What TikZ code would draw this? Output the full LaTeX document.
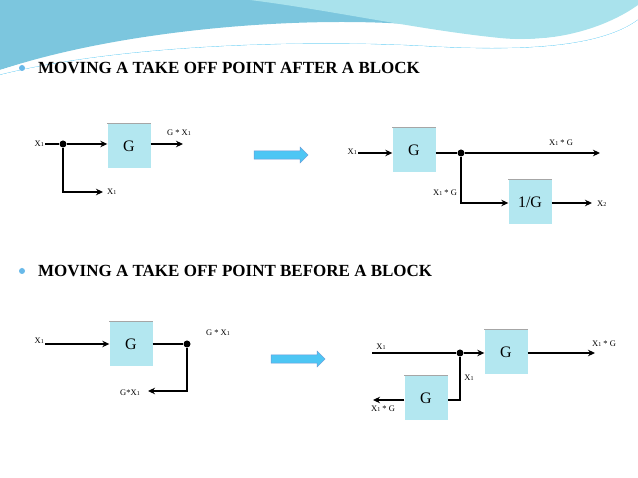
\documentclass[tikz,border=0pt]{standalone}
\usepackage{fontspec}
\setmainfont{Liberation Serif}
\usetikzlibrary{arrows.meta,shapes.arrows}
\definecolor{boxc}{HTML}{B3E7F0}
\definecolor{wave1}{HTML}{7CC6DE}
\definecolor{wave2}{HTML}{A9E2EC}
\newcommand{\xo}{X{\fontsize{6}{6}\selectfont 1}}
\newcommand{\xt}{X{\fontsize{6}{6}\selectfont 2}}
\begin{document}
\begin{tikzpicture}[x=1pt,y=-1pt,
  blk/.style={fill=boxc,minimum width=43pt,minimum height=44pt,inner sep=0pt,font=\fontsize{16}{16}\selectfont,
    append after command={\pgfextra{\draw[gray!70,line width=1.2pt](\tikzlastnode.north west)--(\tikzlastnode.north east);}}},
  lbl/.style={font=\fontsize{8.5}{9}\selectfont,inner sep=1pt},
  ar/.style={-{Stealth[length=7pt,width=6.5pt]},line width=1.3pt},
  ln/.style={line width=1.3pt},
  dotn/.style={circle,fill,inner sep=0pt,minimum size=7pt},
  big/.style={single arrow,fill=cyan!70,draw=cyan!50!blue!60,minimum height=54pt,minimum width=16pt,single arrow head extend=3pt,inner sep=3pt},
  ttl/.style={font=\bfseries\fontsize{17}{17}\selectfont,anchor=west,inner sep=0pt,xscale=1.0}]
\useasboundingbox (0,0) rectangle (638,478);
% header wave
\fill[wave1] (0,0) -- (0,70) .. controls (120,30) and (300,15) .. (420,25) .. controls (520,33) and (600,30) .. (638,0) -- cycle;
\fill[wave2] (250,0) .. controls (330,10) and (420,30) .. (500,38) .. controls (560,44) and (610,25) .. (638,5) -- (638,0) -- cycle;
\fill[white] (0,70) .. controls (120,35) and (300,28) .. (420,36) .. controls (520,44) and (600,40) .. (638,12) -- (638,20) .. controls (600,48) and (520,52) .. (420,46) .. controls (300,40) and (120,45) .. (0,75) -- cycle;
\draw[cyan!60,line width=0.8pt] (0,75) .. controls (120,45) and (300,40) .. (420,46) .. controls (520,52) and (600,48) .. (638,20);
\fill[white] (0,75) .. controls (120,45) and (300,40) .. (420,46) .. controls (520,52) and (600,48) .. (638,20) -- (638,478) -- (0,478) -- cycle;
% titles
\node[circle,fill=cyan!80!blue!60,inner sep=0pt,minimum size=6pt] (b1) at (22,68) {};
\node[ttl] (t1) at (38,68) {MOVING A TAKE OFF POINT AFTER A BLOCK};
\node[circle,fill=cyan!80!blue!60,inner sep=0pt,minimum size=6pt] (b2) at (22,271) {};
\node[ttl] (t2) at (38,271) {MOVING A TAKE OFF POINT BEFORE A BLOCK};
% diagram 1
\node[lbl,anchor=east] (a1) at (45,144) {\xo};
\node[dotn] (ad) at (63,144) {};
\node[blk] (aG) at (129,146) {G};
\coordinate (aout) at (183,144);
\coordinate (adn) at (63,192);
\coordinate (ab) at (103,192);
\draw[ln] (a1.east) -- (ad);
\draw[ar] (ad) -- (aG.west|-ad);
\draw[ar] (aG.east|-aout) -- (aout);
\node[lbl] (ag) at (179,133) {G * \xo};
\draw[ar] (ad) -- (adn) -- (ab);
\node[lbl,anchor=west] (ax) at (106,192) {\xo};
\node[big] (B1) at (279,155) {};
% diagram 2
\node[lbl,anchor=east] (c1) at (358,152) {\xo};
\node[blk] (cG) at (414,150) {G};
\node[dotn] (cd) at (461,153) {};
\coordinate (cout) at (600,153);
\node[blk] (cH) at (530,202) {1/G};
\coordinate (cx2) at (592,203);
\draw[ar] (c1.east|-cd) -- (cG.west|-cd);
\draw[ln] (cG.east|-cd) -- (cd);
\draw[ar] (cd) -- (cout);
\node[lbl] (cl1) at (561,143) {\xo{} * G};
\draw[ar] (cd) -- (cd|-cx2) -- (cH.west|-cx2);
\draw[ar] (cH.east|-cx2) -- (cx2);
\node[lbl,anchor=west] (cl2) at (596,204) {\xt};
\node[lbl] (cl3) at (445,193) {\xo{} * G};
% diagram 3
\node[lbl,anchor=east] (d1) at (45,341) {\xo};
\node[blk] (dG) at (131,344) {G};
\node[dotn] (dd) at (187,344) {};
\coordinate (db) at (148,391);
\draw[ar] (d1.east|-dd) -- (dG.west|-dd);
\draw[ln] (dG.east|-dd) -- (dd);
\draw[ar] (dd) -- (dd|-db) -- (db);
\node[lbl] (dl1) at (218,333) {G * \xo};
\node[lbl] (dl2) at (130,393) {G*\xo};
\node[big] (B2) at (296,359) {};
% diagram 4
\coordinate (e0) at (372,353);
\node[lbl] (e1) at (381,347) {\xo};
\node[dotn] (ed) at (460,353) {};
\node[blk] (eG) at (506,352) {G};
\coordinate (eout) at (595,353);
\node[blk] (eH) at (426,398) {G};
\coordinate (eb) at (373,400);
\draw[ln] (e0) -- (ed);
\draw[ar] (ed) -- (eG.west|-ed);
\draw[ar] (eG.east|-ed) -- (eout);
\node[lbl] (el1) at (604,344) {\xo{} * G};
\draw[ln] (ed) -- (ed|-eb) -- (eH.east|-eb);
\draw[ar] (eH.west|-eb) -- (eb);
\node[lbl] (el2) at (469,378) {\xo};
\node[lbl] (el3) at (383,409) {\xo{} * G};
\end{tikzpicture}
\end{document}
